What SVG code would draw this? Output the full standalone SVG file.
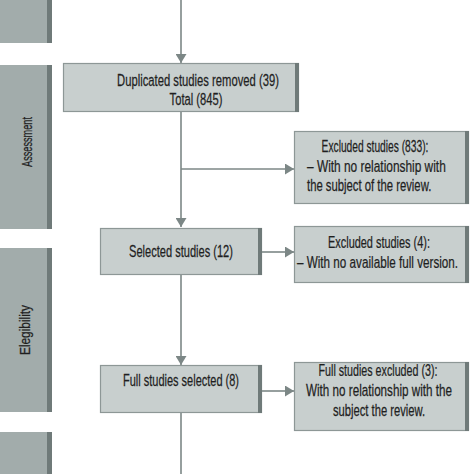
<svg xmlns="http://www.w3.org/2000/svg" width="474" height="474" viewBox="0 0 474 474">
<defs>
<style>
.bar{fill:#a2acab}
.barEdge{fill:#6f7a79}
.box{fill:#c8cfce;stroke:#8d9796;stroke-width:1.2}
.edge{fill:#6f7a79}
.t{font-family:"Liberation Sans",Arial,sans-serif;font-size:17px;fill:#1f1f1f;stroke:#1f1f1f;stroke-width:0.25}
.v{font-family:"Liberation Sans",Arial,sans-serif;font-size:14px;fill:#1f1f1f;stroke:#1f1f1f;stroke-width:0.25}
.m{text-anchor:middle}
.ln{stroke:#7c8786;stroke-width:1.6;fill:none}
</style>
<marker id="ah" viewBox="0 0 9 11" refX="9" refY="5.5" markerWidth="9" markerHeight="11" markerUnits="userSpaceOnUse" orient="auto">
<path d="M0,0 L9,5.5 L0,11 Z" fill="#7c8786"/>
</marker>
</defs>
<rect width="474" height="474" fill="#ffffff"/>
<g id="phase-top">
<rect class="bar" x="0" y="0" width="52" height="43"/>
<rect class="barEdge" x="47" y="0" width="5" height="43"/>
</g>
<g id="phase-assessment">
<rect class="bar" x="0" y="65" width="52" height="164"/>
<rect class="barEdge" x="47" y="65" width="5" height="164"/>
<text class="v m" transform="translate(31.5,142) rotate(-90) scale(0.656,1)">Assessment</text>
</g>
<g id="phase-eligibility">
<rect class="bar" x="0" y="248" width="52" height="164"/>
<rect class="barEdge" x="47" y="248" width="5" height="164"/>
<text class="v m" transform="translate(30,330) rotate(-90) scale(0.846,1)">Elegibility</text>
</g>
<g id="phase-bottom">
<rect class="bar" x="0" y="432" width="52" height="42"/>
<rect class="barEdge" x="47" y="432" width="5" height="42"/>
</g>
<g id="connectors">
<line class="ln" x1="181" y1="0" x2="181" y2="63" marker-end="url(#ah)"/>
<line class="ln" x1="181" y1="112" x2="181" y2="227" marker-end="url(#ah)"/>
<line class="ln" x1="181" y1="169" x2="294" y2="169" marker-end="url(#ah)"/>
<line class="ln" x1="262" y1="252" x2="294" y2="252" marker-end="url(#ah)"/>
<line class="ln" x1="181" y1="275" x2="181" y2="365" marker-end="url(#ah)"/>
<line class="ln" x1="262" y1="391" x2="294" y2="391" marker-end="url(#ah)"/>
<line class="ln" x1="181" y1="413" x2="181" y2="474"/>
</g>
<g id="duplicates">
<rect class="box" x="63.5" y="63.5" width="235" height="48"/>
<rect class="edge" x="295" y="63" width="4" height="49"/>
<text class="t m" transform="translate(198,86) scale(0.662,1)">Duplicated studies removed (39)</text>
<text class="t m" transform="translate(196,105) scale(0.658,1)">Total (845)</text>
</g>
<g id="excluded-833">
<rect class="box" x="294.5" y="131.5" width="174" height="72"/>
<rect class="edge" x="465" y="131" width="4" height="73"/>
<text class="t m" transform="translate(375,152) scale(0.602,1)">Excluded studies (833):</text>
<text class="t" transform="translate(307,172) scale(0.700,1)">– With no relationship with</text>
<text class="t" transform="translate(307,191) scale(0.665,1)">the subject of the review.</text>
</g>
<g id="selected">
<rect class="box" x="100.5" y="228.5" width="161" height="46"/>
<rect class="edge" x="258" y="228" width="4" height="47"/>
<text class="t m" transform="translate(181,257) scale(0.651,1)">Selected studies (12)</text>
</g>
<g id="excluded-4">
<rect class="box" x="294.5" y="226.5" width="174" height="56"/>
<rect class="edge" x="465" y="226" width="4" height="57"/>
<text class="t m" transform="translate(379,248) scale(0.643,1)">Excluded studies (4):</text>
<text class="t" transform="translate(297,268) scale(0.688,1)">– With no available full version.</text>
</g>
<g id="full-selected">
<rect class="box" x="100.5" y="365.5" width="161" height="47"/>
<rect class="edge" x="258" y="365" width="4" height="48"/>
<text class="t m" transform="translate(181,386) scale(0.647,1)">Full studies selected (8)</text>
</g>
<g id="full-excluded">
<rect class="box" x="294.5" y="362.5" width="174" height="68"/>
<rect class="edge" x="465" y="362" width="4" height="69"/>
<text class="t m" transform="translate(378,376) scale(0.630,1)">Full studies excluded (3):</text>
<text class="t m" transform="translate(379,396) scale(0.687,1)">With no relationship with the</text>
<text class="t m" transform="translate(379,416) scale(0.660,1)">subject the review.</text>
</g>
</svg>
